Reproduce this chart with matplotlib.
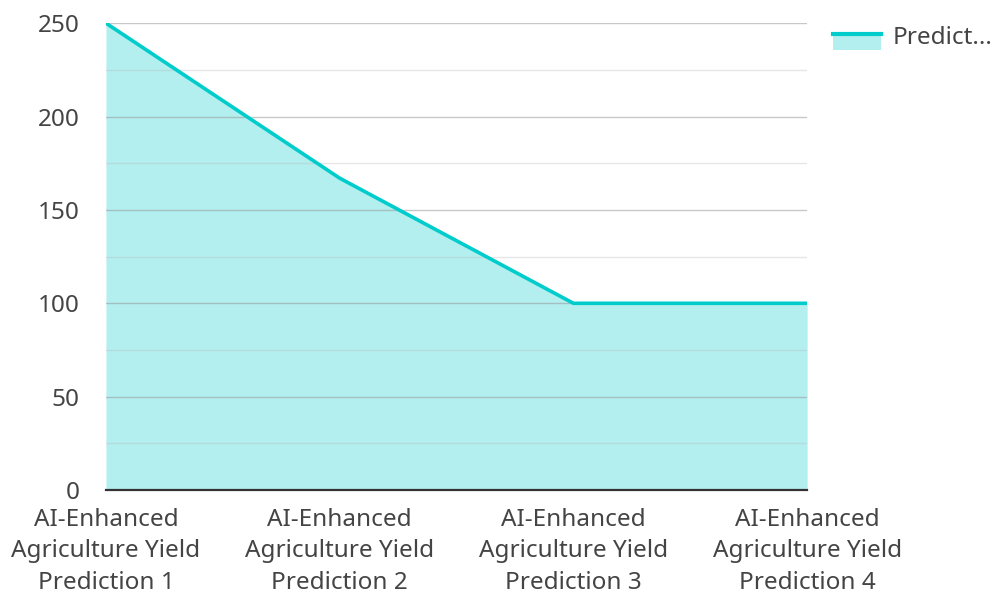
import matplotlib.pyplot as plt
from matplotlib.legend_handler import HandlerBase
from matplotlib.lines import Line2D
from matplotlib.patches import Rectangle
from matplotlib.ticker import MultipleLocator

plt.rcParams['font.family'] = ['Noto Sans', 'DejaVu Sans']

categories = ['AI-Enhanced\nAgriculture Yield\nPrediction 1',
              'AI-Enhanced\nAgriculture Yield\nPrediction 2',
              'AI-Enhanced\nAgriculture Yield\nPrediction 3',
              'AI-Enhanced\nAgriculture Yield\nPrediction 4']
values = [250, 167, 100, 100]
series_name = 'Predict...'

line_color = '#00cccc'
fill_color = '#b2efee'
text_color = '#444444'
fs = 17.5


# legend key: filled box with the line along its top edge
class AreaHandler(HandlerBase):
    def create_artists(self, legend, orig_handle, xdescent, ydescent,
                       width, height, fontsize, trans):
        box = Rectangle((-xdescent, -ydescent - height * 0.35), width, height * 1.05,
                        facecolor=fill_color, edgecolor='none', transform=trans)
        top = -ydescent + height * 0.6
        ln = Line2D([-xdescent, -xdescent + width], [top, top],
                    color=line_color, linewidth=3, transform=trans)
        return [box, ln]


fig = plt.figure(figsize=(9.94, 5.94), dpi=100)
ax = fig.add_axes([0.1066, 0.175, 0.7054, 0.786])

x = list(range(len(categories)))
ax.fill_between(x, values, 0, color=fill_color, linewidth=0, zorder=1)
ax.plot(x, values, color=line_color, linewidth=2.6, zorder=3)

ax.set_xlim(0, len(categories) - 1)
ax.set_ylim(0, 250)
ax.yaxis.set_major_locator(MultipleLocator(50))
ax.yaxis.set_minor_locator(MultipleLocator(25))
ax.grid(which='major', axis='y', color='#999999', alpha=0.55, linewidth=1, zorder=2)
ax.grid(which='minor', axis='y', color='#bbbbbb', alpha=0.35, linewidth=1, zorder=2)
ax.set_axisbelow(False)

ax.set_xticks(x)
ax.set_xticklabels(categories, fontsize=fs, color=text_color, linespacing=1.41)
ax.tick_params(axis='both', which='both', length=0, labelsize=fs, labelcolor=text_color)
ax.tick_params(axis='y', pad=19)
ax.tick_params(axis='x', pad=13)

for side in ['top', 'right', 'left']:
    ax.spines[side].set_visible(False)
ax.spines['bottom'].set_color('#333333')
ax.spines['bottom'].set_linewidth(1.6)
ax.spines['bottom'].set_zorder(4)

proxy = Rectangle((0, 0), 1, 1)
fig.legend([proxy], [series_name], handler_map={Rectangle: AreaHandler()},
           loc='upper left', bbox_to_anchor=(0.828, 0.972), frameon=False,
           fontsize=fs, labelcolor=text_color, handlelength=2.0,
           handletextpad=0.45, borderaxespad=0)

fig.savefig('out.png', dpi=100, facecolor='white')
